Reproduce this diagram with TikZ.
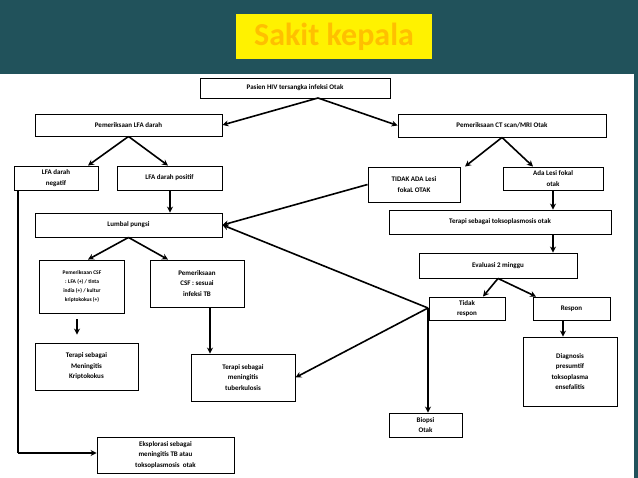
\documentclass[tikz,border=0pt]{standalone}
\usepackage{fontspec}
\setmainfont{Carlito}
\usetikzlibrary{arrows.meta}
\definecolor{band}{HTML}{21525B}
\definecolor{ttl}{HTML}{FFC000}
\begin{document}
\begin{tikzpicture}[x=1pt,y=-1pt,
  bx/.style={draw,line width=0.9pt,align=center,font=\fontsize{7}{10.5}\selectfont\bfseries,inner sep=1pt},
  ar/.style={line width=1.6pt,-{Stealth[length=6pt,width=6pt]}}]
\useasboundingbox (0,0) rectangle (638,478);
\fill[white] (0,0) rectangle (638,478);
\fill[band] (0,0) rectangle (638,74);
\fill[band] (634,74) rectangle (638,478);
\node[fill=yellow,minimum width=196pt,minimum height=45pt,inner sep=0pt,font=\fontsize{32}{32}\selectfont\bfseries,text=ttl] (title) at (334,37) {Sakit kepala};
\newcommand\bnode[6]{\node[bx,minimum width=#4-#2,minimum height=#5-#3] (#1) at ({(#2+#4)/2},{(#3+#5)/2}) {#6};}
\bnode{pas}{200}{78}{390}{98}{Pasien HIV tersangka infeksi Otak}
\bnode{lfa}{35}{114}{222}{136}{Pemeriksaan LFA darah}
\bnode{ct}{398}{114}{606}{137}{Pemeriksaan CT scan/MRI Otak}
\bnode{neg}{14}{166}{98}{190}{LFA darah\\negatif}
\bnode{pos}{117}{166}{222}{190}{LFA darah positif}
\bnode{lum}{35}{213}{222}{237}{Lumbal pungsi}
\bnode{tid}{368}{167}{460}{202}{TIDAK ADA Lesi\\fokaL OTAK}
\bnode{ada}{503}{167}{603}{190}{Ada Lesi fokal\\otak}
\bnode{tox}{389}{210}{611}{234}{Terapi sebagai toksoplasmosis otak}
\bnode{eva}{419}{253}{577}{278}{Evaluasi 2 minggu}
\node[bx,minimum width=85pt,minimum height=53pt,font=\fontsize{5.5}{9}\selectfont\bfseries] (csf1) at (82,286.5) {Pemeriksaan CSF\\: LFA (+) / tinta\\india (+) / kultur\\kriptokokus (+)};
\bnode{csf2}{150}{260}{244}{307}{Pemeriksaan\\CSF : sesuai\\infeksi TB}
\bnode{tr}{429}{297}{505}{320}{Tidak\\respon}
\bnode{re}{533}{297}{610}{320}{Respon}
\bnode{dia}{523}{337}{617}{406}{Diagnosis\\presumtif\\toksoplasma\\ensefalitis}
\bnode{bio}{389}{413}{462}{437}{Biopsi\\Otak}
\bnode{ttb}{191}{354}{295}{401}{Terapi sebagai\\meningitis\\tuberkulosis}
\bnode{tkr}{35}{343}{138}{390}{Terapi sebagai\\Meningitis\\Kriptokokus}
\bnode{eks}{97}{437}{234}{473}{Eksplorasi sebagai\\meningitis TB atau\\toksoplasmosis\ \ otak}
\coordinate (pb) at (318,98);
\draw[ar] (pb) -- (lfa.east);
\draw[ar] (pb) -- (ct.west);
\draw[ar] (lfa.south) -- (neg.north -| 88,0);
\draw[ar] (lfa.south) -- (pos.north -| 168,0);
\draw[ar] (ct.south) -- (tid.north -| 465,0) ;
\draw[ar] (ct.south) -- (ada.north -| 533,0);
\draw[ar] (pos.south -| 170,0) -- (lum.north -| 170,0);
\draw[ar] (ada.south) -- (tox.north -| ada.south);
\draw[ar] (tox.south -| ada.south) -- (eva.north -| ada.south);
\draw[ar] (tid.west) -- (lum.east);
\draw[ar] (lum.south) -- (csf1.north -| 88,0);
\draw[ar] (lum.south) -- (csf2.north -| 168,0);
\draw[ar,shorten <=6pt,shorten >=8pt] (csf1.south -| 77,0) -- (tkr.north -| 77,0);
\draw[ar] (csf2.south -| 210,0) -- (ttb.north -| 210,0);
\draw[ar] (eva.south) -- (tr.north -| 483,0);
\draw[ar] (eva.south) -- (re.north -| 536,0);
\draw[ar] (re.south -| 563,0) -- (dia.north -| 563,0);
\coordinate (tl) at (428,308);
\draw[ar] (tl) -- (ttb.east);
\draw[ar] (tl) -- (lum.east);
\draw[ar] (tl) -- (bio.north -| tl);
\coordinate (lc) at (18,453);
\draw[line width=1.6pt] (neg.south -| lc) -- (lc);
\draw[ar] (lc) -- (lc -| eks.west);
\end{tikzpicture}
\end{document}
